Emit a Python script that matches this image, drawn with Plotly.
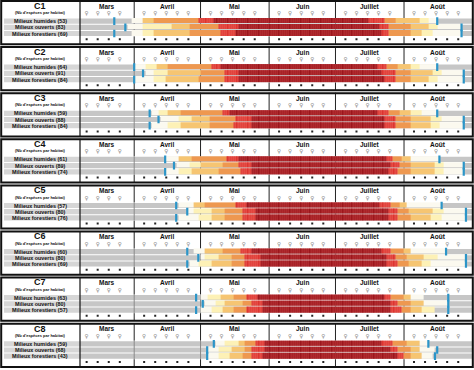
import plotly.graph_objects as go

W, H = 474, 370

# ---------------- data (days counted from 1 March = day 0) ----------------
month_names = ["Mars", "Avril", "Mai", "Juin", "Juillet", "Août"]
month_starts = [0, 31, 61, 92, 122, 153, 184]
glyph_days = [9, 14, 19, 24, 35, 40, 45, 50, 55, 65, 70, 75, 80, 85,
              96, 101, 106, 111, 116, 126, 131, 136, 141, 146,
              157, 162, 167, 172, 177]

panel_names = ["C1", "C2", "C3", "C4", "C5", "C6", "C7", "C8"]
habitats = ["Milieux humides", "Milieux ouverts", "Milieux forestiers"]
subtitle = "(Nb d'espèces par habitat)"

C1_species = [53, 83, 69]
C2_species = [64, 91, 84]
C3_species = [59, 88, 84]
C4_species = [61, 89, 74]
C5_species = [57, 80, 76]
C6_species = [60, 80, 69]
C7_species = [63, 80, 57]
C8_species = [59, 68, 43]

# (level, first day) ... (0, end day)   levels: 1 very low ... 6 maximum
C1_humides = [(1, 30), (3, 35), (4, 40), (5, 60), (6, 67), (5, 137), (4, 144), (3, 149), (2, 160), (1, 164), (0, 168)]
C1_ouverts = [(1, 28), (2, 35), (3, 48), (4, 56), (5, 69), (6, 78), (5, 142), (4, 146), (3, 156), (2, 164), (1, 168), (0, 179)]
C1_forestiers = [(1, 30), (2, 35), (3, 40), (4, 56), (5, 70), (6, 77), (5, 143), (4, 146), (3, 156), (2, 161), (1, 166), (0, 179)]
C1_first = [22, 27, 22]
C1_last = [168, 179, 179]

C2_humides = [(1, 31), (2, 36), (3, 41), (4, 46), (5, 66), (6, 70), (5, 141), (4, 145), (3, 150), (2, 156), (1, 160), (0, 168)]
C2_ouverts = [(1, 36), (2, 40), (3, 46), (4, 61), (5, 72), (6, 78), (5, 143), (4, 149), (3, 156), (2, 166), (1, 170), (0, 180)]
C2_forestiers = [(1, 31), (2, 40), (3, 45), (4, 60), (5, 72), (6, 78), (5, 144), (4, 149), (3, 156), (2, 164), (1, 168), (0, 180)]
C2_first = [31, 35, 31]
C2_last = [168, 180, 180]

C3_humides = [(1, 39), (2, 42), (3, 46), (4, 52), (5, 71), (6, 74), (5, 141), (4, 146), (3, 151), (2, 156), (1, 161), (0, 168)]
C3_ouverts = [(1, 43), (2, 51), (3, 57), (4, 65), (5, 77), (6, 84), (5, 144), (4, 149), (3, 156), (2, 165), (1, 170), (0, 180)]
C3_forestiers = [(1, 39), (2, 46), (3, 52), (4, 65), (5, 76), (6, 84), (5, 144), (4, 149), (3, 156), (2, 165), (1, 169), (0, 180)]
C3_first = [38, 42, 38]
C3_last = [168, 180, 180]

C4_humides = [(1, 45), (3, 51), (4, 57), (5, 73), (6, 78), (5, 145), (4, 148), (3, 152), (1, 156), (0, 169)]
C4_ouverts = [(1, 50), (2, 56), (3, 61), (4, 71), (5, 78), (6, 84), (5, 147), (4, 151), (3, 156), (2, 167), (1, 171), (0, 180)]
C4_forestiers = [(1, 45), (2, 51), (3, 57), (4, 69), (5, 79), (6, 84), (5, 146), (4, 150), (3, 156), (2, 167), (1, 171), (0, 180)]
C4_first = [45, 49, 45]
C4_last = [169, 180, 180]

C5_humides = [(1, 51), (3, 58), (4, 63), (5, 77), (6, 82), (5, 142), (4, 147), (3, 151), (1, 154), (0, 170)]
C5_ouverts = [(1, 55), (2, 58), (3, 66), (4, 72), (5, 80), (6, 86), (5, 146), (4, 150), (3, 155), (2, 166), (1, 171), (0, 181)]
C5_forestiers = [(1, 51), (2, 60), (3, 66), (4, 72), (5, 80), (6, 86), (5, 146), (4, 150), (3, 156), (2, 165), (1, 170), (0, 181)]
C5_first = [50, 55, 50]
C5_last = [170, 181, 181]

C6_humides = [(1, 58), (3, 63), (4, 71), (5, 79), (6, 84), (5, 143), (4, 147), (3, 153), (1, 156), (0, 172)]
C6_ouverts = [(1, 61), (2, 63), (3, 69), (4, 75), (5, 81), (6, 88), (5, 145), (4, 149), (3, 154), (2, 162), (1, 168), (0, 181)]
C6_forestiers = [(1, 56), (2, 60), (3, 66), (4, 75), (5, 81), (6, 88), (5, 145), (4, 150), (3, 155), (2, 161), (1, 165), (0, 181)]
C6_first = [55, 60, 55]
C6_last = [172, 181, 181]

C7_humides = [(1, 61), (2, 64), (3, 70), (4, 76), (5, 82), (6, 87), (5, 144), (4, 147), (3, 153), (1, 156), (0, 162)]
C7_ouverts = [(1, 63), (2, 68), (3, 72), (4, 80), (5, 84), (6, 89), (5, 147), (4, 150), (3, 156), (1, 162), (0, 173)]
C7_forestiers = [(1, 61), (2, 66), (3, 71), (4, 76), (5, 82), (6, 89), (5, 147), (4, 152), (3, 156), (2, 161), (0, 167)]
C7_first = [59, 62, 59]
C7_last = [173, 173, 173]

C8_humides = [(1, 68), (2, 72), (3, 78), (4, 81), (5, 86), (6, 90), (5, 143), (4, 148), (3, 154), (1, 160), (0, 164)]
C8_ouverts = [(1, 64), (2, 69), (3, 75), (4, 81), (5, 84), (6, 90), (5, 147), (4, 150), (3, 156), (1, 160), (0, 167)]
C8_forestiers = [(1, 64), (2, 69), (3, 74), (4, 80), (5, 84), (6, 89), (5, 150), (4, 153), (3, 156), (1, 161), (0, 166)]
C8_first = [67, 64, 64]
C8_last = [164, 168, 167]

PANELS = [
    (C1_species, [C1_humides, C1_ouverts, C1_forestiers], C1_first, C1_last),
    (C2_species, [C2_humides, C2_ouverts, C2_forestiers], C2_first, C2_last),
    (C3_species, [C3_humides, C3_ouverts, C3_forestiers], C3_first, C3_last),
    (C4_species, [C4_humides, C4_ouverts, C4_forestiers], C4_first, C4_last),
    (C5_species, [C5_humides, C5_ouverts, C5_forestiers], C5_first, C5_last),
    (C6_species, [C6_humides, C6_ouverts, C6_forestiers], C6_first, C6_last),
    (C7_species, [C7_humides, C7_ouverts, C7_forestiers], C7_first, C7_last),
    (C8_species, [C8_humides, C8_ouverts, C8_forestiers], C8_first, C8_last),
]

# ---------------- styling ----------------
LEVEL_COLORS = ["#fbf9ef", "#fdf1b6", "#f6c572", "#ee9850", "#dc3430", "#9c161c"]
UNDER_COLORS = ["#fbf9ef", "#fdf1b6", "#f6c572", "#ee9850", "#ee6e62", "#c94448"]
GRAY = "#c6c6c6"
LABEL_GRAY = "#d6d6d6"
BLUE = "#2b95c8"
FONT = "Liberation Sans, Arial, sans-serif"


def stepped(colors):
    n = len(colors)
    cs = []
    for i, c in enumerate(colors):
        cs.append([i / n, c])
        cs.append([(i + 1) / n, c])
    return cs


def day_levels(segs):
    lv = {}
    for (lev, d0), (_, d1) in zip(segs[:-1], segs[1:]):
        for d in range(d0, d1):
            lv[d] = lev
    return lv


DAYS = list(range(month_starts[0], month_starts[-1]))
XC = [d + 0.5 for d in DAYS]
X_MIN, X_MAX = 6.5, 184
X0_PX, X1_PX = 80, 472.6
PITCH = 46.1
ROW_TOP, ROW_H = 18.0, 6.2
PANEL_H = 44.2

fig = go.Figure()
shapes, annotations = [], []
gx, gy, dx, dy, bx, by = [], [], [], [], [], []

for k, (species, rows, first, last) in enumerate(PANELS):
    t = k * PITCH
    rows_bottom = t + ROW_TOP + 3 * ROW_H
    ycs = [t + ROW_TOP + ROW_H * (i + 0.5) for i in range(3)]

    for i in range(3):
        y0 = t + ROW_TOP + ROW_H * i + 0.5
        y1 = y0 + ROW_H - 1
        shapes.append(dict(type="rect", xref="paper", yref="y", x0=4 / W, x1=X0_PX / W,
                           y0=y0, y1=y1, fillcolor=LABEL_GRAY, line=dict(width=0), layer="below"))
        shapes.append(dict(type="rect", xref="x", yref="y", x0=X_MIN, x1=X_MAX,
                           y0=y0, y1=y1, fillcolor=GRAY, line=dict(width=0), layer="below"))

    for ms in month_starts[1:-1]:
        shapes.append(dict(type="line", xref="x", yref="y", x0=ms, x1=ms, y0=t + 0.5, y1=t + ROW_TOP,
                           line=dict(color="#222", width=1), layer="below"))
        shapes.append(dict(type="line", xref="x", yref="y", x0=ms, x1=ms, y0=t + ROW_TOP, y1=rows_bottom,
                           line=dict(color="#8a8a8a", width=1), layer="below"))
        shapes.append(dict(type="line", xref="x", yref="y", x0=ms, x1=ms, y0=rows_bottom, y1=t + PANEL_H,
                           line=dict(color="#222", width=1), layer="below"))

    shapes.append(dict(type="line", xref="paper", yref="y", x0=X0_PX / W, x1=X0_PX / W,
                       y0=t + 0.5, y1=t + PANEL_H, line=dict(color="#111", width=1.2)))
    shapes.append(dict(type="rect", xref="paper", yref="y", x0=1.2 / W, x1=472.8 / W,
                       y0=t + 1.0, y1=t + PANEL_H, line=dict(color="#111", width=2)))

    levels = [day_levels(r) for r in rows]
    z_base = [[lv.get(d) for d in DAYS] for lv in levels]
    z_top = [[(lv.get(d) if lv.get(d) in (5, 6) else None) for d in DAYS] for lv in levels]
    fig.add_trace(go.Heatmap(x=XC, y=ycs, z=z_base, colorscale=stepped(UNDER_COLORS),
                             zmin=0.5, zmax=6.5, showscale=False, ygap=1, hoverinfo="skip"))
    fig.add_trace(go.Heatmap(x=XC, y=ycs, z=z_top, colorscale=stepped(LEVEL_COLORS),
                             zmin=0.5, zmax=6.5, showscale=False, xgap=0.7, ygap=1, hoverinfo="skip"))

    for i in range(3):
        bx += [first[i], last[i]]
        by += [ycs[i], ycs[i]]

    for g in glyph_days:
        gx.append(g + 0.5)
        gy.append(t + 13.8)
        dx.append(g + 0.5)
        dy.append(t + 39.2)

    annotations.append(dict(xref="paper", yref="y", x=40 / W, y=t + 5.8, xanchor="center", yanchor="middle",
                            text="<b>%s</b>" % panel_names[k],
                            showarrow=False, font=dict(family=FONT, size=9, color="#111")))
    annotations.append(dict(xref="paper", yref="y", x=40 / W, y=t + 12.6, xanchor="center", yanchor="middle",
                            text="<b>%s</b>" % subtitle,
                            showarrow=False, font=dict(family=FONT, size=4, color="#111")))
    for i in range(3):
        annotations.append(dict(xref="paper", yref="y", x=40 / W, y=ycs[i], xanchor="center", yanchor="middle",
                                text="<b>%s (%d)</b>" % (habitats[i], species[i]),
                                showarrow=False, font=dict(family=FONT, size=5.4, color="#111")))
    for m, name in enumerate(month_names):
        mid = (max(month_starts[m], X_MIN) + month_starts[m + 1]) / 2
        annotations.append(dict(xref="x", yref="y", x=mid, y=t + 6.2, xanchor="center", yanchor="middle",
                                text="<b>%s</b>" % name,
                                showarrow=False, font=dict(family=FONT, size=6.5, color="#111")))

fig.add_trace(go.Scatter(x=gx, y=gy, mode="text", text=["♀"] * len(gx),
                         textfont=dict(family="DejaVu Sans", size=5.5, color="#7a7a7a"), hoverinfo="skip"))
fig.add_trace(go.Scatter(x=dx, y=dy, mode="markers", hoverinfo="skip",
                         marker=dict(symbol="square", size=2, color="#222")))
fig.add_trace(go.Scatter(x=bx, y=by, mode="markers", hoverinfo="skip",
                         marker=dict(symbol="line-ns", size=5.5, line=dict(width=2.2, color=BLUE))))

fig.update_layout(
    width=W, height=H, margin=dict(l=0, r=0, t=0, b=0),
    paper_bgcolor="white", plot_bgcolor="white", showlegend=False,
    xaxis=dict(range=[X_MIN, X_MAX], domain=[X0_PX / W, X1_PX / W], visible=False, fixedrange=True),
    yaxis=dict(range=[H, 0], domain=[0, 1], visible=False, fixedrange=True),
    shapes=shapes, annotations=annotations,
)

fig.write_html("out.html", config={"displayModeBar": False},
               post_script="document.body.style.margin='0';document.body.style.overflow='hidden';")
